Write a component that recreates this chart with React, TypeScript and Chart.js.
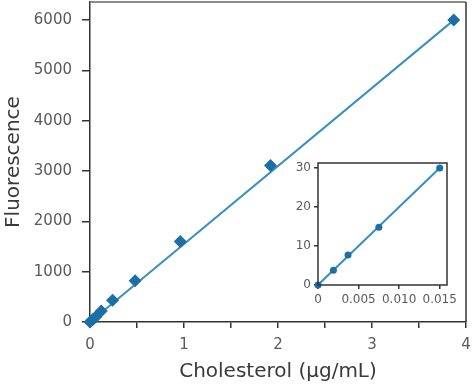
import React, { useEffect, useRef } from "react";
import { Chart, registerables } from "chart.js";

Chart.register(...registerables);

// Main chart data
const mainConc = [0, 0.03, 0.06, 0.12, 0.24, 0.48, 0.96, 1.92, 3.87];
const mainFluor = [0, 50, 100, 220, 430, 820, 1600, 3110, 6000];
const mainFitConc = [0, 3.87];
const mainFitFluor = [0, 6000];
const mainYTicks = [0, 1000, 2000, 3000, 4000, 5000, 6000];

// Inset data
const insetConc = [0, 0.0019, 0.0037, 0.0075, 0.015];
const insetFluor = [0, 3.8, 7.7, 14.8, 30];
const insetFitConc = [0, 0.015];
const insetFitFluor = [0, 30];
const insetXTicks = [0, 0.005, 0.01, 0.015];
const insetYTicks = [0, 10, 20, 30];

const xTitle = "Cholesterol (µg/mL)";
const yTitle = "Fluorescence";

const FONT = "'DejaVu Sans', sans-serif";
const MARK = "#1c6ea6";
const LINE = "#3b8ec1";
const AXIS = "#333333";
const TICK_TXT = "#5a5a5a";

const boxPlugin = {
  id: "mainBox",
  afterDraw(chart: any) {
    const { ctx, chartArea } = chart;
    ctx.save();
    ctx.strokeStyle = "#8a8a8a";
    ctx.lineWidth = 2;
    ctx.beginPath();
    ctx.moveTo(chartArea.left, chartArea.top);
    ctx.lineTo(chartArea.right, chartArea.top);
    ctx.stroke();
    ctx.strokeStyle = AXIS;
    ctx.lineWidth = 1.5;
    ctx.beginPath();
    ctx.moveTo(chartArea.right, chartArea.top);
    ctx.lineTo(chartArea.right, chartArea.bottom);
    ctx.stroke();
    ctx.restore();
  },
};

const insetBoxPlugin = {
  id: "insetBox",
  beforeDraw(chart: any) {
    const { ctx, chartArea } = chart;
    ctx.save();
    ctx.fillStyle = "#ffffff";
    ctx.fillRect(chartArea.left, chartArea.top, chartArea.right - chartArea.left, chartArea.bottom - chartArea.top);
    ctx.restore();
  },
  afterDraw(chart: any) {
    const { ctx, chartArea } = chart;
    ctx.save();
    ctx.strokeStyle = AXIS;
    ctx.lineWidth = 1.5;
    ctx.strokeRect(chartArea.left, chartArea.top, chartArea.right - chartArea.left, chartArea.bottom - chartArea.top);
    ctx.restore();
  },
};

export default function App() {
  const mainRef = useRef<HTMLCanvasElement>(null);
  const insetRef = useRef<HTMLCanvasElement>(null);

  useEffect(() => {
    const main = new Chart(mainRef.current as HTMLCanvasElement, {
      type: "scatter",
      data: {
        datasets: [
          {
            type: "line",
            data: mainFitConc.map((x, i) => ({ x, y: mainFitFluor[i] })),
            borderColor: LINE,
            borderWidth: 2,
            pointRadius: 0,
            showLine: true,
            fill: false,
            order: 2,
          } as any,
          {
            data: mainConc.map((x, i) => ({ x, y: mainFluor[i] })),
            pointStyle: "rectRot",
            pointRadius: 6.5,
            backgroundColor: MARK,
            borderColor: MARK,
            borderWidth: 0,
            order: 1,
            clip: false,
          },
        ],
      },
      options: {
        responsive: false,
        animation: false,
        devicePixelRatio: 1,
        layout: { autoPadding: false, padding: { top: 2, right: 8, left: 0, bottom: 0 } },
        plugins: { legend: { display: false }, tooltip: { enabled: false } },
        scales: {
          x: {
            type: "linear",
            min: 0,
            max: 4,
            afterFit: (s: any) => {
              s.height = 69;
              s.paddingLeft = 0;
              s.paddingRight = 0;
            },
            ticks: {
              stepSize: 0.5,
              autoSkip: false,
              maxRotation: 0,
              padding: 8,
              color: TICK_TXT,
              font: { family: FONT, size: 15 },
              callback: (v: any) => (Number.isInteger(v) ? String(v) : ""),
            },
            grid: { drawOnChartArea: false, drawTicks: true, tickLength: 6, color: AXIS, lineWidth: 1.5 },
            border: { display: true, color: AXIS, width: 1.5 },
            title: {
              display: true,
              text: xTitle,
              color: "#3a3a3a",
              font: { family: FONT, size: 20 },
              padding: { top: 0, bottom: 7 },
            },
          },
          y: {
            type: "linear",
            min: 0,
            max: 6360,
            afterFit: (s: any) => {
              s.width = 90;
              s.paddingTop = 0;
              s.paddingBottom = 0;
            },
            afterBuildTicks: (s: any) => {
              s.ticks = mainYTicks.map((v) => ({ value: v }));
            },
            ticks: {
              padding: 10,
              color: TICK_TXT,
              font: { family: FONT, size: 15 },
              callback: (v: any) => String(v),
            },
            grid: { drawOnChartArea: false, drawTicks: true, tickLength: 8, color: AXIS, lineWidth: 1.5 },
            border: { display: true, color: AXIS, width: 1.5 },
            title: {
              display: true,
              text: yTitle,
              color: "#3a3a3a",
              font: { family: FONT, size: 20 },
              padding: { top: 2, bottom: 0 },
            },
          },
        },
      } as any,
      plugins: [boxPlugin],
    });

    const inset = new Chart(insetRef.current as HTMLCanvasElement, {
      type: "scatter",
      data: {
        datasets: [
          {
            type: "line",
            data: insetFitConc.map((x, i) => ({ x, y: insetFitFluor[i] })),
            borderColor: LINE,
            borderWidth: 2,
            pointRadius: 0,
            showLine: true,
            fill: false,
            order: 2,
          } as any,
          {
            data: insetConc.map((x, i) => ({ x, y: insetFluor[i] })),
            pointStyle: "circle",
            pointRadius: 3.5,
            backgroundColor: MARK,
            borderColor: MARK,
            borderWidth: 0,
            order: 1,
            clip: false,
          },
        ],
      },
      options: {
        responsive: false,
        animation: false,
        devicePixelRatio: 1,
        layout: { autoPadding: false, padding: { top: 13, right: 13, left: 0, bottom: 0 } },
        plugins: { legend: { display: false }, tooltip: { enabled: false } },
        scales: {
          x: {
            type: "linear",
            min: 0,
            max: 0.0159,
            afterFit: (s: any) => {
              s.height = 25;
              s.paddingLeft = 0;
              s.paddingRight = 0;
            },
            afterBuildTicks: (s: any) => {
              s.ticks = insetXTicks.map((v) => ({ value: v }));
            },
            ticks: {
              autoSkip: false,
              maxRotation: 0,
              padding: 4,
              color: TICK_TXT,
              font: { family: FONT, size: 12 },
              callback: (v: any) => (v === 0 ? "0" : Number(v).toFixed(3)),
            },
            grid: { drawOnChartArea: false, drawTicks: true, tickLength: 4, color: AXIS, lineWidth: 1.5 },
            border: { display: false },
          },
          y: {
            type: "linear",
            min: 0,
            max: 31.3,
            afterFit: (s: any) => {
              s.width = 28;
              s.paddingTop = 0;
              s.paddingBottom = 0;
            },
            afterBuildTicks: (s: any) => {
              s.ticks = insetYTicks.map((v) => ({ value: v }));
            },
            ticks: {
              padding: 3,
              color: TICK_TXT,
              font: { family: FONT, size: 12 },
            },
            grid: { drawOnChartArea: false, drawTicks: true, tickLength: 4, color: AXIS, lineWidth: 1.5 },
            border: { display: false },
          },
        },
      } as any,
      plugins: [insetBoxPlugin],
    });

    return () => {
      main.destroy();
      inset.destroy();
    };
  }, []);

  return (
    <div style={{ position: "fixed", left: 0, top: 0, width: 474, height: 391, background: "#fff" }}>
      <canvas ref={mainRef} width={474} height={391} style={{ position: "absolute", left: 0, top: 0 }} />
      <canvas ref={insetRef} width={170} height={160} style={{ position: "absolute", left: 290, top: 150 }} />
    </div>
  );
}
